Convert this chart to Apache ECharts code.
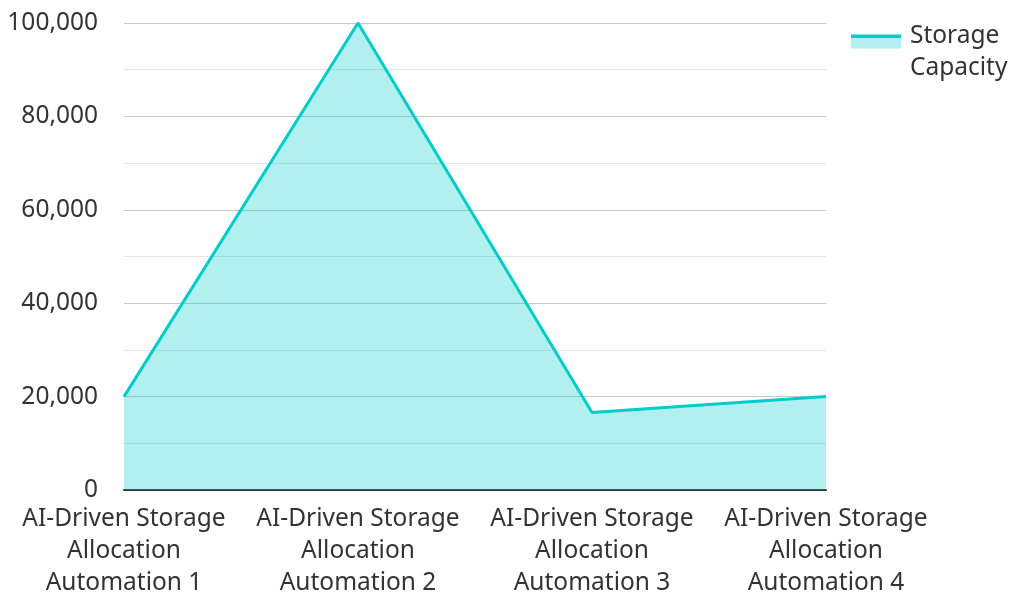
<!DOCTYPE html>
<html>
<head>
<meta charset="utf-8">
<script src="https://cdn.jsdelivr.net/npm/echarts@6/dist/echarts.min.js"></script>
<style>
  html, body { margin: 0; padding: 0; background: #fff; }
  #chart { width: 1012px; height: 594px; }
</style>
</head>
<body>
<div id="chart"></div>
<script>
// Storage capacity per automation run
const categories = [
  'AI-Driven Storage\nAllocation\nAutomation 1',
  'AI-Driven Storage\nAllocation\nAutomation 2',
  'AI-Driven Storage\nAllocation\nAutomation 3',
  'AI-Driven Storage\nAllocation\nAutomation 4'
];
const storageCapacity = [20000, 100000, 16600, 20000];
const seriesName = 'Storage Capacity';

const lineColor = '#00cccc';
const fillColor = '#b2efef';
const font = '"Noto Sans", sans-serif';
const textColor = '#333';
const fontSize = 24.5;

const chart = echarts.init(document.getElementById('chart'));
chart.setOption({
  animation: false,
  grid: {
    left: 124, right: 186, top: 23, bottom: 104,
    containLabel: false,
    outerBoundsMode: 'none'
  },
  legend: {
    orient: 'vertical',
    left: 851,
    top: 24,
    padding: 0,
    icon: 'rect',
    itemWidth: 50,
    itemHeight: 14,
    // first word sits beside the swatch; the rest wraps onto a line drawn below
    formatter: () => '{a|Storage}\n{b| }',
    textStyle: {
      fontFamily: font, fontSize: fontSize, color: textColor, padding: [0, 0, 0, 4],
      rich: {
        a: { fontFamily: font, fontSize: fontSize, color: textColor, lineHeight: 24 },
        b: { fontSize: 8, lineHeight: 10 }
      }
    },
    itemStyle: {
      color: {
        type: 'linear', x: 0, y: 0, x2: 0, y2: 1,
        colorStops: [
          { offset: 0, color: lineColor },
          { offset: 0.27, color: lineColor },
          { offset: 0.27, color: fillColor },
          { offset: 1, color: fillColor }
        ]
      },
      borderWidth: 0
    },
    lineStyle: { opacity: 0 }
  },
  graphic: [{
    type: 'text',
    left: 910,
    top: 56,
    style: { text: 'Capacity', font: fontSize + 'px "Noto Sans", sans-serif', fill: textColor }
  }],
  xAxis: {
    type: 'category',
    data: categories,
    boundaryGap: false,
    axisLine: { lineStyle: { color: '#333', width: 2 } },
    axisTick: { show: false },
    axisLabel: {
      fontFamily: font, fontSize: fontSize, color: textColor, lineHeight: 32,
      margin: 13, interval: 0
    },
    splitLine: { show: false }
  },
  yAxis: {
    type: 'value',
    min: 0,
    max: 100000,
    interval: 20000,
    axisLine: { show: false },
    axisTick: { show: false },
    axisLabel: {
      fontFamily: font, fontSize: fontSize, color: textColor, margin: 26,
      formatter: v => v.toLocaleString('en-US')
    },
    splitLine: { lineStyle: { color: '#c8c8c8', width: 1 } },
    minorTick: { show: false, splitNumber: 2 },
    minorSplitLine: { show: true, lineStyle: { color: '#e4e4e4', width: 1 } }
  },
  series: [{
    name: seriesName,
    type: 'line',
    data: storageCapacity,
    symbol: 'none',
    lineStyle: { color: lineColor, width: 3 },
    itemStyle: { color: lineColor },
    areaStyle: { color: lineColor, opacity: 0.3 }
  }]
});
</script>
</body>
</html>
